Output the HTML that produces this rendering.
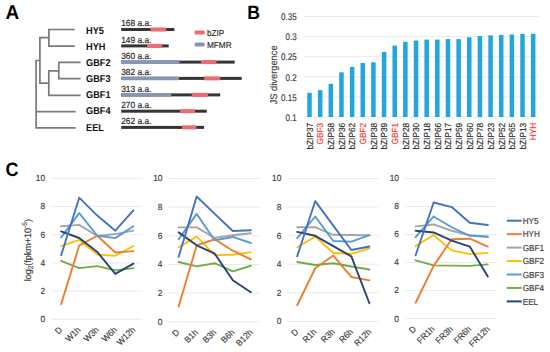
<!DOCTYPE html><html><head><meta charset="utf-8"><style>html,body{margin:0;padding:0;background:#fff;}svg{display:block;}text{font-family:"Liberation Sans", sans-serif;text-rendering:geometricPrecision;}</style></head><body>
<svg width="550" height="352" viewBox="0 0 550 352">
<rect width="550" height="352" fill="#fff"/>
<text transform="translate(5.60 19.00) scale(1 1.06)" font-size="19" fill="#000" font-weight="bold">A</text>
<text transform="translate(247.30 18.90) scale(1 1.1)" font-size="17.6" fill="#000" font-weight="bold">B</text>
<text transform="translate(5.60 176.40) scale(1 1.08)" font-size="18" fill="#000" font-weight="bold">C</text>
<path d="M48.9 29.5L74.0 29.5 M48.9 46.1L74.0 46.1 M48.9 29.5L48.9 46.1 M39.9 37.7L48.9 37.7 M39.9 37.7L39.9 83.2 M39.9 83.2L48.8 83.2 M48.8 70.8L48.8 95.4 M48.8 70.8L58.8 70.8 M58.8 62.3L58.8 78.6 M58.8 62.3L79.7 62.3 M58.8 78.6L79.7 78.6 M48.8 95.4L79.7 95.4 M36.1 60.5L39.9 60.5 M36.1 60.5L36.1 127.8 M36.1 111.7L74.8 111.7 M36.1 127.8L74.8 127.8" stroke="#7a7a7a" stroke-width="1.7" fill="none" stroke-linecap="square"/>
<text transform="translate(86.00 33.70) scale(1 1.08)" font-size="9.2" fill="#111" font-weight="bold">HY5</text>
<text transform="translate(86.00 50.15) scale(1 1.08)" font-size="9.2" fill="#111" font-weight="bold">HYH</text>
<text transform="translate(86.00 65.60) scale(1 1.08)" font-size="9.2" fill="#111" font-weight="bold">GBF2</text>
<text transform="translate(86.00 82.00) scale(1 1.08)" font-size="9.2" fill="#111" font-weight="bold">GBF3</text>
<text transform="translate(86.00 97.70) scale(1 1.08)" font-size="9.2" fill="#111" font-weight="bold">GBF1</text>
<text transform="translate(86.00 114.10) scale(1 1.08)" font-size="9.2" fill="#111" font-weight="bold">GBF4</text>
<text transform="translate(86.00 130.90) scale(1 1.08)" font-size="9.2" fill="#111" font-weight="bold">EEL</text>
<rect x="121.2" y="28.0" width="53.2" height="3.0" fill="#353535"/>
<rect x="150.5" y="27.5" width="15.9" height="4" fill="#f06b70"/>
<text transform="translate(121.20 26.30) scale(1 1.06)" font-size="8.4" fill="#1e1e1e" stroke="#1e1e1e" stroke-width="0.15">168 a.a.</text>
<rect x="121.2" y="44.4" width="47.5" height="3.0" fill="#353535"/>
<rect x="147" y="43.9" width="15.3" height="4" fill="#f06b70"/>
<text transform="translate(121.20 42.70) scale(1 1.06)" font-size="8.4" fill="#1e1e1e" stroke="#1e1e1e" stroke-width="0.15">149 a.a.</text>
<rect x="121.2" y="60.6" width="113.5" height="3.0" fill="#353535"/>
<rect x="121.2" y="60.3" width="58.3" height="3.6" fill="#8597b5" rx="1"/>
<rect x="201" y="60.1" width="15.5" height="4" fill="#f06b70"/>
<text transform="translate(121.20 58.90) scale(1 1.06)" font-size="8.4" fill="#1e1e1e" stroke="#1e1e1e" stroke-width="0.15">360 a.a.</text>
<rect x="121.2" y="76.9" width="120.5" height="3.0" fill="#353535"/>
<rect x="121.2" y="76.6" width="57.8" height="3.6" fill="#8597b5" rx="1"/>
<rect x="204.2" y="76.4" width="16.0" height="4" fill="#f06b70"/>
<text transform="translate(121.20 75.20) scale(1 1.06)" font-size="8.4" fill="#1e1e1e" stroke="#1e1e1e" stroke-width="0.15">382 a.a.</text>
<rect x="121.2" y="93.4" width="99.0" height="3.0" fill="#353535"/>
<rect x="121.2" y="93.1" width="50.0" height="3.6" fill="#8597b5" rx="1"/>
<rect x="191.8" y="92.9" width="16.3" height="4" fill="#f06b70"/>
<text transform="translate(121.20 91.70) scale(1 1.06)" font-size="8.4" fill="#1e1e1e" stroke="#1e1e1e" stroke-width="0.15">313 a.a.</text>
<rect x="121.2" y="109.7" width="85.6" height="3.0" fill="#353535"/>
<rect x="180.1" y="109.2" width="14.9" height="4" fill="#f06b70"/>
<text transform="translate(121.20 108.00) scale(1 1.06)" font-size="8.4" fill="#1e1e1e" stroke="#1e1e1e" stroke-width="0.15">270 a.a.</text>
<rect x="121.2" y="125.9" width="82.9" height="3.0" fill="#353535"/>
<rect x="181.9" y="125.4" width="14.4" height="4" fill="#f06b70"/>
<text transform="translate(121.20 124.20) scale(1 1.06)" font-size="8.4" fill="#1e1e1e" stroke="#1e1e1e" stroke-width="0.15">262 a.a.</text>
<rect x="194.5" y="30.5" width="10.3" height="4" rx="1.5" fill="#f06b70"/>
<text transform="translate(207.00 35.80) scale(1 1.06)" font-size="8.2" fill="#2a2a2a" stroke="#2a2a2a" stroke-width="0.15">bZIP</text>
<rect x="194.5" y="42.4" width="10.3" height="4" rx="1.5" fill="#8597b5"/>
<text transform="translate(207.00 47.60) scale(1 1.06)" font-size="8.2" fill="#2a2a2a" stroke="#2a2a2a" stroke-width="0.15">MFMR</text>
<line x1="304.2" y1="16.5" x2="538.5" y2="16.5" stroke="#eaeaea" stroke-width="1"/>
<text transform="translate(296.60 20.20) scale(1 1.2)" font-size="8" fill="#404040" stroke="#404040" stroke-width="0.15" text-anchor="end">0.35</text>
<line x1="304.2" y1="36.6" x2="538.5" y2="36.6" stroke="#eaeaea" stroke-width="1"/>
<text transform="translate(296.60 40.30) scale(1 1.2)" font-size="8" fill="#404040" stroke="#404040" stroke-width="0.15" text-anchor="end">0.3</text>
<line x1="304.2" y1="56.7" x2="538.5" y2="56.7" stroke="#eaeaea" stroke-width="1"/>
<text transform="translate(296.60 60.40) scale(1 1.2)" font-size="8" fill="#404040" stroke="#404040" stroke-width="0.15" text-anchor="end">0.25</text>
<line x1="304.2" y1="76.8" x2="538.5" y2="76.8" stroke="#eaeaea" stroke-width="1"/>
<text transform="translate(296.60 80.50) scale(1 1.2)" font-size="8" fill="#404040" stroke="#404040" stroke-width="0.15" text-anchor="end">0.2</text>
<line x1="304.2" y1="96.9" x2="538.5" y2="96.9" stroke="#eaeaea" stroke-width="1"/>
<text transform="translate(296.60 100.60) scale(1 1.2)" font-size="8" fill="#404040" stroke="#404040" stroke-width="0.15" text-anchor="end">0.15</text>
<line x1="304.2" y1="117.0" x2="538.5" y2="117.0" stroke="#eaeaea" stroke-width="1"/>
<text transform="translate(296.60 120.70) scale(1 1.2)" font-size="8" fill="#404040" stroke="#404040" stroke-width="0.15" text-anchor="end">0.1</text>
<rect x="307.27" y="92.8" width="4.5" height="24.2" fill="#22a6e0"/>
<text transform="translate(312.82 122.80) rotate(-90) scale(1 1.06)" font-size="8.3" fill="#262626" stroke="#262626" stroke-width="0.15" text-anchor="end">bZIP37</text>
<rect x="317.93" y="90.2" width="4.5" height="26.8" fill="#22a6e0"/>
<text transform="translate(323.48 122.80) rotate(-90) scale(1 1.06)" font-size="8.3" fill="#f03838" stroke="#f03838" stroke-width="0.15" text-anchor="end">GBF3</text>
<rect x="328.57" y="83.8" width="4.5" height="33.2" fill="#22a6e0"/>
<text transform="translate(334.12 122.80) rotate(-90) scale(1 1.06)" font-size="8.3" fill="#262626" stroke="#262626" stroke-width="0.15" text-anchor="end">bZIP58</text>
<rect x="339.22" y="72.3" width="4.5" height="44.7" fill="#22a6e0"/>
<text transform="translate(344.77 122.80) rotate(-90) scale(1 1.06)" font-size="8.3" fill="#262626" stroke="#262626" stroke-width="0.15" text-anchor="end">bZIP36</text>
<rect x="349.88" y="66.9" width="4.5" height="50.1" fill="#22a6e0"/>
<text transform="translate(355.43 122.80) rotate(-90) scale(1 1.06)" font-size="8.3" fill="#262626" stroke="#262626" stroke-width="0.15" text-anchor="end">bZIP62</text>
<rect x="360.52" y="63.0" width="4.5" height="54.0" fill="#22a6e0"/>
<text transform="translate(366.07 122.80) rotate(-90) scale(1 1.06)" font-size="8.3" fill="#f03838" stroke="#f03838" stroke-width="0.15" text-anchor="end">GBF2</text>
<rect x="371.18" y="62.3" width="4.5" height="54.7" fill="#22a6e0"/>
<text transform="translate(376.73 122.80) rotate(-90) scale(1 1.06)" font-size="8.3" fill="#262626" stroke="#262626" stroke-width="0.15" text-anchor="end">bZIP38</text>
<rect x="381.82" y="51.9" width="4.5" height="65.1" fill="#22a6e0"/>
<text transform="translate(387.38 122.80) rotate(-90) scale(1 1.06)" font-size="8.3" fill="#262626" stroke="#262626" stroke-width="0.15" text-anchor="end">bZIP39</text>
<rect x="392.48" y="45.6" width="4.5" height="71.4" fill="#22a6e0"/>
<text transform="translate(398.03 122.80) rotate(-90) scale(1 1.06)" font-size="8.3" fill="#f03838" stroke="#f03838" stroke-width="0.15" text-anchor="end">GBF1</text>
<rect x="403.12" y="41.8" width="4.5" height="75.2" fill="#22a6e0"/>
<text transform="translate(408.68 122.80) rotate(-90) scale(1 1.06)" font-size="8.3" fill="#262626" stroke="#262626" stroke-width="0.15" text-anchor="end">bZIP28</text>
<rect x="413.77" y="40.5" width="4.5" height="76.5" fill="#22a6e0"/>
<text transform="translate(419.32 122.80) rotate(-90) scale(1 1.06)" font-size="8.3" fill="#262626" stroke="#262626" stroke-width="0.15" text-anchor="end">bZIP30</text>
<rect x="424.43" y="39.6" width="4.5" height="77.4" fill="#22a6e0"/>
<text transform="translate(429.98 122.80) rotate(-90) scale(1 1.06)" font-size="8.3" fill="#262626" stroke="#262626" stroke-width="0.15" text-anchor="end">bZIP18</text>
<rect x="435.07" y="39.6" width="4.5" height="77.4" fill="#22a6e0"/>
<text transform="translate(440.62 122.80) rotate(-90) scale(1 1.06)" font-size="8.3" fill="#262626" stroke="#262626" stroke-width="0.15" text-anchor="end">bZIP66</text>
<rect x="445.73" y="39.1" width="4.5" height="77.9" fill="#22a6e0"/>
<text transform="translate(451.28 122.80) rotate(-90) scale(1 1.06)" font-size="8.3" fill="#262626" stroke="#262626" stroke-width="0.15" text-anchor="end">bZIP17</text>
<rect x="456.38" y="39.1" width="4.5" height="77.9" fill="#22a6e0"/>
<text transform="translate(461.93 122.80) rotate(-90) scale(1 1.06)" font-size="8.3" fill="#262626" stroke="#262626" stroke-width="0.15" text-anchor="end">bZIP59</text>
<rect x="467.02" y="37.3" width="4.5" height="79.7" fill="#22a6e0"/>
<text transform="translate(472.57 122.80) rotate(-90) scale(1 1.06)" font-size="8.3" fill="#262626" stroke="#262626" stroke-width="0.15" text-anchor="end">bZIP60</text>
<rect x="477.67" y="36.0" width="4.5" height="81.0" fill="#22a6e0"/>
<text transform="translate(483.22 122.80) rotate(-90) scale(1 1.06)" font-size="8.3" fill="#262626" stroke="#262626" stroke-width="0.15" text-anchor="end">bZIP78</text>
<rect x="488.32" y="35.3" width="4.5" height="81.7" fill="#22a6e0"/>
<text transform="translate(493.88 122.80) rotate(-90) scale(1 1.06)" font-size="8.3" fill="#262626" stroke="#262626" stroke-width="0.15" text-anchor="end">bZIP23</text>
<rect x="498.98" y="34.9" width="4.5" height="82.1" fill="#22a6e0"/>
<text transform="translate(504.53 122.80) rotate(-90) scale(1 1.06)" font-size="8.3" fill="#262626" stroke="#262626" stroke-width="0.15" text-anchor="end">bZIP52</text>
<rect x="509.62" y="34.5" width="4.5" height="82.5" fill="#22a6e0"/>
<text transform="translate(515.17 122.80) rotate(-90) scale(1 1.06)" font-size="8.3" fill="#262626" stroke="#262626" stroke-width="0.15" text-anchor="end">bZIP65</text>
<rect x="520.27" y="33.9" width="4.5" height="83.1" fill="#22a6e0"/>
<text transform="translate(525.82 122.80) rotate(-90) scale(1 1.06)" font-size="8.3" fill="#262626" stroke="#262626" stroke-width="0.15" text-anchor="end">bZIP13</text>
<rect x="530.92" y="33.8" width="4.5" height="83.2" fill="#22a6e0"/>
<text transform="translate(536.47 122.80) rotate(-90) scale(1 1.06)" font-size="8.3" fill="#f03838" stroke="#f03838" stroke-width="0.15" text-anchor="end">HYH</text>
<text transform="translate(276.70 74.90) rotate(-90) scale(1 1.05)" font-size="9.3" fill="#404040" stroke="#404040" stroke-width="0.15" text-anchor="middle">JS divergence</text>
<line x1="51.2" y1="319.30" x2="142.5" y2="319.30" stroke="#eaeaea" stroke-width="1"/>
<text transform="translate(45.20 322.20) scale(1 1.06)" font-size="8.4" fill="#404040" stroke="#404040" stroke-width="0.15" text-anchor="end">0</text>
<line x1="51.2" y1="291.12" x2="142.5" y2="291.12" stroke="#eaeaea" stroke-width="1"/>
<text transform="translate(45.20 294.02) scale(1 1.06)" font-size="8.4" fill="#404040" stroke="#404040" stroke-width="0.15" text-anchor="end">2</text>
<line x1="51.2" y1="262.94" x2="142.5" y2="262.94" stroke="#eaeaea" stroke-width="1"/>
<text transform="translate(45.20 265.84) scale(1 1.06)" font-size="8.4" fill="#404040" stroke="#404040" stroke-width="0.15" text-anchor="end">4</text>
<line x1="51.2" y1="234.76" x2="142.5" y2="234.76" stroke="#eaeaea" stroke-width="1"/>
<text transform="translate(45.20 237.66) scale(1 1.06)" font-size="8.4" fill="#404040" stroke="#404040" stroke-width="0.15" text-anchor="end">6</text>
<line x1="51.2" y1="206.58" x2="142.5" y2="206.58" stroke="#eaeaea" stroke-width="1"/>
<text transform="translate(45.20 209.48) scale(1 1.06)" font-size="8.4" fill="#404040" stroke="#404040" stroke-width="0.15" text-anchor="end">8</text>
<line x1="51.2" y1="178.40" x2="142.5" y2="178.40" stroke="#eaeaea" stroke-width="1"/>
<text transform="translate(45.20 181.30) scale(1 1.06)" font-size="8.4" fill="#404040" stroke="#404040" stroke-width="0.15" text-anchor="end">10</text>
<text transform="translate(62.83 330.40) rotate(-45) scale(1 1.06)" font-size="8.4" fill="#404040" stroke="#404040" stroke-width="0.15" text-anchor="end">D</text>
<text transform="translate(81.09 330.40) rotate(-45) scale(1 1.06)" font-size="8.4" fill="#404040" stroke="#404040" stroke-width="0.15" text-anchor="end">W1h</text>
<text transform="translate(99.35 330.40) rotate(-45) scale(1 1.06)" font-size="8.4" fill="#404040" stroke="#404040" stroke-width="0.15" text-anchor="end">W3h</text>
<text transform="translate(117.61 330.40) rotate(-45) scale(1 1.06)" font-size="8.4" fill="#404040" stroke="#404040" stroke-width="0.15" text-anchor="end">W6h</text>
<text transform="translate(135.87 330.40) rotate(-45) scale(1 1.06)" font-size="8.4" fill="#404040" stroke="#404040" stroke-width="0.15" text-anchor="end">W12h</text>
<polyline points="61.17,260.97 79.22,268.15 97.27,266.18 115.32,270.41 133.37,268.15" fill="none" stroke="#70AD47" stroke-width="1.9" stroke-linejoin="round" stroke-linecap="round"/>
<polyline points="61.17,246.03 79.22,239.97 97.27,254.63 115.32,255.75 133.37,246.03" fill="none" stroke="#FFC000" stroke-width="1.9" stroke-linejoin="round" stroke-linecap="round"/>
<polyline points="61.17,226.31 79.22,224.90 97.27,236.03 115.32,234.06 133.37,230.67" fill="none" stroke="#A5A5A5" stroke-width="1.9" stroke-linejoin="round" stroke-linecap="round"/>
<polyline points="61.17,304.08 79.22,245.47 97.27,235.75 115.32,252.51 133.37,251.10" fill="none" stroke="#ED7D31" stroke-width="1.9" stroke-linejoin="round" stroke-linecap="round"/>
<polyline points="61.17,237.44 79.22,213.06 97.27,235.75 115.32,238.14 133.37,226.17" fill="none" stroke="#5B9BD5" stroke-width="1.9" stroke-linejoin="round" stroke-linecap="round"/>
<polyline points="61.17,231.38 79.22,238.00 97.27,251.95 115.32,273.93 133.37,263.64" fill="none" stroke="#264478" stroke-width="1.9" stroke-linejoin="round" stroke-linecap="round"/>
<polyline points="61.17,255.33 79.22,197.70 97.27,215.60 115.32,230.67 133.37,210.38" fill="none" stroke="#4472C4" stroke-width="1.9" stroke-linejoin="round" stroke-linecap="round"/>
<line x1="168.5" y1="321.80" x2="260" y2="321.80" stroke="#eaeaea" stroke-width="1"/>
<text transform="translate(162.50 324.70) scale(1 1.06)" font-size="8.4" fill="#404040" stroke="#404040" stroke-width="0.15" text-anchor="end">0</text>
<line x1="168.5" y1="293.14" x2="260" y2="293.14" stroke="#eaeaea" stroke-width="1"/>
<text transform="translate(162.50 296.04) scale(1 1.06)" font-size="8.4" fill="#404040" stroke="#404040" stroke-width="0.15" text-anchor="end">2</text>
<line x1="168.5" y1="264.48" x2="260" y2="264.48" stroke="#eaeaea" stroke-width="1"/>
<text transform="translate(162.50 267.38) scale(1 1.06)" font-size="8.4" fill="#404040" stroke="#404040" stroke-width="0.15" text-anchor="end">4</text>
<line x1="168.5" y1="235.82" x2="260" y2="235.82" stroke="#eaeaea" stroke-width="1"/>
<text transform="translate(162.50 238.72) scale(1 1.06)" font-size="8.4" fill="#404040" stroke="#404040" stroke-width="0.15" text-anchor="end">6</text>
<line x1="168.5" y1="207.16" x2="260" y2="207.16" stroke="#eaeaea" stroke-width="1"/>
<text transform="translate(162.50 210.06) scale(1 1.06)" font-size="8.4" fill="#404040" stroke="#404040" stroke-width="0.15" text-anchor="end">8</text>
<line x1="168.5" y1="178.50" x2="260" y2="178.50" stroke="#eaeaea" stroke-width="1"/>
<text transform="translate(162.50 181.40) scale(1 1.06)" font-size="8.4" fill="#404040" stroke="#404040" stroke-width="0.15" text-anchor="end">10</text>
<text transform="translate(180.15 332.90) rotate(-45) scale(1 1.06)" font-size="8.4" fill="#404040" stroke="#404040" stroke-width="0.15" text-anchor="end">D</text>
<text transform="translate(198.45 332.90) rotate(-45) scale(1 1.06)" font-size="8.4" fill="#404040" stroke="#404040" stroke-width="0.15" text-anchor="end">B1h</text>
<text transform="translate(216.75 332.90) rotate(-45) scale(1 1.06)" font-size="8.4" fill="#404040" stroke="#404040" stroke-width="0.15" text-anchor="end">B3h</text>
<text transform="translate(235.05 332.90) rotate(-45) scale(1 1.06)" font-size="8.4" fill="#404040" stroke="#404040" stroke-width="0.15" text-anchor="end">B6h</text>
<text transform="translate(253.35 332.90) rotate(-45) scale(1 1.06)" font-size="8.4" fill="#404040" stroke="#404040" stroke-width="0.15" text-anchor="end">B12h</text>
<polyline points="178.65,262.04 196.70,266.34 214.75,263.19 232.80,271.36 250.85,265.77" fill="none" stroke="#70AD47" stroke-width="1.9" stroke-linejoin="round" stroke-linecap="round"/>
<polyline points="178.65,247.28 196.70,236.68 214.75,255.17 232.80,254.74 250.85,252.16" fill="none" stroke="#FFC000" stroke-width="1.9" stroke-linejoin="round" stroke-linecap="round"/>
<polyline points="178.65,227.37 196.70,227.37 214.75,237.97 232.80,235.25 250.85,233.24" fill="none" stroke="#A5A5A5" stroke-width="1.9" stroke-linejoin="round" stroke-linecap="round"/>
<polyline points="178.65,306.47 196.70,245.28 214.75,239.26 232.80,250.72 250.85,259.32" fill="none" stroke="#ED7D31" stroke-width="1.9" stroke-linejoin="round" stroke-linecap="round"/>
<polyline points="178.65,239.26 196.70,213.90 214.75,240.41 232.80,236.97 250.85,242.99" fill="none" stroke="#5B9BD5" stroke-width="1.9" stroke-linejoin="round" stroke-linecap="round"/>
<polyline points="178.65,232.38 196.70,245.28 214.75,253.73 232.80,280.24 250.85,292.28" fill="none" stroke="#264478" stroke-width="1.9" stroke-linejoin="round" stroke-linecap="round"/>
<polyline points="178.65,256.89 196.70,196.56 214.75,213.90 232.80,230.95 250.85,230.23" fill="none" stroke="#4472C4" stroke-width="1.9" stroke-linejoin="round" stroke-linecap="round"/>
<line x1="287.3" y1="321.40" x2="378.5" y2="321.40" stroke="#eaeaea" stroke-width="1"/>
<text transform="translate(281.30 324.30) scale(1 1.06)" font-size="8.4" fill="#404040" stroke="#404040" stroke-width="0.15" text-anchor="end">0</text>
<line x1="287.3" y1="292.82" x2="378.5" y2="292.82" stroke="#eaeaea" stroke-width="1"/>
<text transform="translate(281.30 295.72) scale(1 1.06)" font-size="8.4" fill="#404040" stroke="#404040" stroke-width="0.15" text-anchor="end">2</text>
<line x1="287.3" y1="264.24" x2="378.5" y2="264.24" stroke="#eaeaea" stroke-width="1"/>
<text transform="translate(281.30 267.14) scale(1 1.06)" font-size="8.4" fill="#404040" stroke="#404040" stroke-width="0.15" text-anchor="end">4</text>
<line x1="287.3" y1="235.66" x2="378.5" y2="235.66" stroke="#eaeaea" stroke-width="1"/>
<text transform="translate(281.30 238.56) scale(1 1.06)" font-size="8.4" fill="#404040" stroke="#404040" stroke-width="0.15" text-anchor="end">6</text>
<line x1="287.3" y1="207.08" x2="378.5" y2="207.08" stroke="#eaeaea" stroke-width="1"/>
<text transform="translate(281.30 209.98) scale(1 1.06)" font-size="8.4" fill="#404040" stroke="#404040" stroke-width="0.15" text-anchor="end">8</text>
<line x1="287.3" y1="178.50" x2="378.5" y2="178.50" stroke="#eaeaea" stroke-width="1"/>
<text transform="translate(281.30 181.40) scale(1 1.06)" font-size="8.4" fill="#404040" stroke="#404040" stroke-width="0.15" text-anchor="end">10</text>
<text transform="translate(298.92 332.50) rotate(-45) scale(1 1.06)" font-size="8.4" fill="#404040" stroke="#404040" stroke-width="0.15" text-anchor="end">D</text>
<text transform="translate(317.16 332.50) rotate(-45) scale(1 1.06)" font-size="8.4" fill="#404040" stroke="#404040" stroke-width="0.15" text-anchor="end">R1h</text>
<text transform="translate(335.40 332.50) rotate(-45) scale(1 1.06)" font-size="8.4" fill="#404040" stroke="#404040" stroke-width="0.15" text-anchor="end">R3h</text>
<text transform="translate(353.64 332.50) rotate(-45) scale(1 1.06)" font-size="8.4" fill="#404040" stroke="#404040" stroke-width="0.15" text-anchor="end">R6h</text>
<text transform="translate(371.88 332.50) rotate(-45) scale(1 1.06)" font-size="8.4" fill="#404040" stroke="#404040" stroke-width="0.15" text-anchor="end">R12h</text>
<polyline points="297.18,261.95 315.23,264.95 333.28,263.24 351.33,266.53 369.38,269.53" fill="none" stroke="#70AD47" stroke-width="1.9" stroke-linejoin="round" stroke-linecap="round"/>
<polyline points="297.18,247.23 315.23,236.66 333.28,252.95 351.33,253.81 369.38,248.24" fill="none" stroke="#FFC000" stroke-width="1.9" stroke-linejoin="round" stroke-linecap="round"/>
<polyline points="297.18,227.23 315.23,227.23 333.28,234.80 351.33,234.95 369.38,235.23" fill="none" stroke="#A5A5A5" stroke-width="1.9" stroke-linejoin="round" stroke-linecap="round"/>
<polyline points="297.18,305.25 315.23,268.24 333.28,255.52 351.33,276.96 369.38,280.39" fill="none" stroke="#ED7D31" stroke-width="1.9" stroke-linejoin="round" stroke-linecap="round"/>
<polyline points="297.18,238.23 315.23,216.51 333.28,240.95 351.33,241.66 369.38,235.23" fill="none" stroke="#5B9BD5" stroke-width="1.9" stroke-linejoin="round" stroke-linecap="round"/>
<polyline points="297.18,231.94 315.23,235.80 333.28,246.09 351.33,256.38 369.38,303.25" fill="none" stroke="#264478" stroke-width="1.9" stroke-linejoin="round" stroke-linecap="round"/>
<polyline points="297.18,256.38 315.23,201.08 333.28,225.66 351.33,249.95 369.38,246.52" fill="none" stroke="#4472C4" stroke-width="1.9" stroke-linejoin="round" stroke-linecap="round"/>
<line x1="405.0" y1="318.60" x2="497.0" y2="318.60" stroke="#eaeaea" stroke-width="1"/>
<text transform="translate(399.00 321.50) scale(1 1.06)" font-size="8.4" fill="#404040" stroke="#404040" stroke-width="0.15" text-anchor="end">0</text>
<line x1="405.0" y1="290.58" x2="497.0" y2="290.58" stroke="#eaeaea" stroke-width="1"/>
<text transform="translate(399.00 293.48) scale(1 1.06)" font-size="8.4" fill="#404040" stroke="#404040" stroke-width="0.15" text-anchor="end">2</text>
<line x1="405.0" y1="262.56" x2="497.0" y2="262.56" stroke="#eaeaea" stroke-width="1"/>
<text transform="translate(399.00 265.46) scale(1 1.06)" font-size="8.4" fill="#404040" stroke="#404040" stroke-width="0.15" text-anchor="end">4</text>
<line x1="405.0" y1="234.54" x2="497.0" y2="234.54" stroke="#eaeaea" stroke-width="1"/>
<text transform="translate(399.00 237.44) scale(1 1.06)" font-size="8.4" fill="#404040" stroke="#404040" stroke-width="0.15" text-anchor="end">6</text>
<line x1="405.0" y1="206.52" x2="497.0" y2="206.52" stroke="#eaeaea" stroke-width="1"/>
<text transform="translate(399.00 209.42) scale(1 1.06)" font-size="8.4" fill="#404040" stroke="#404040" stroke-width="0.15" text-anchor="end">8</text>
<line x1="405.0" y1="178.50" x2="497.0" y2="178.50" stroke="#eaeaea" stroke-width="1"/>
<text transform="translate(399.00 181.40) scale(1 1.06)" font-size="8.4" fill="#404040" stroke="#404040" stroke-width="0.15" text-anchor="end">10</text>
<text transform="translate(416.70 329.70) rotate(-45) scale(1 1.06)" font-size="8.4" fill="#404040" stroke="#404040" stroke-width="0.15" text-anchor="end">D</text>
<text transform="translate(435.10 329.70) rotate(-45) scale(1 1.06)" font-size="8.4" fill="#404040" stroke="#404040" stroke-width="0.15" text-anchor="end">FR1h</text>
<text transform="translate(453.50 329.70) rotate(-45) scale(1 1.06)" font-size="8.4" fill="#404040" stroke="#404040" stroke-width="0.15" text-anchor="end">FR3h</text>
<text transform="translate(471.90 329.70) rotate(-45) scale(1 1.06)" font-size="8.4" fill="#404040" stroke="#404040" stroke-width="0.15" text-anchor="end">FR6h</text>
<text transform="translate(490.30 329.70) rotate(-45) scale(1 1.06)" font-size="8.4" fill="#404040" stroke="#404040" stroke-width="0.15" text-anchor="end">FR12h</text>
<polyline points="415.60,260.32 433.65,265.36 451.70,265.64 469.75,265.92 487.80,264.38" fill="none" stroke="#70AD47" stroke-width="1.9" stroke-linejoin="round" stroke-linecap="round"/>
<polyline points="415.60,246.17 433.65,234.96 451.70,250.37 469.75,254.15 487.80,252.89" fill="none" stroke="#FFC000" stroke-width="1.9" stroke-linejoin="round" stroke-linecap="round"/>
<polyline points="415.60,226.41 433.65,224.45 451.70,230.76 469.75,235.24 487.80,237.06" fill="none" stroke="#A5A5A5" stroke-width="1.9" stroke-linejoin="round" stroke-linecap="round"/>
<polyline points="415.60,302.77 433.65,265.92 451.70,239.30 469.75,238.74 487.80,246.59" fill="none" stroke="#ED7D31" stroke-width="1.9" stroke-linejoin="round" stroke-linecap="round"/>
<polyline points="415.60,237.06 433.65,216.47 451.70,227.25 469.75,235.80 487.80,236.50" fill="none" stroke="#5B9BD5" stroke-width="1.9" stroke-linejoin="round" stroke-linecap="round"/>
<polyline points="415.60,230.76 433.65,232.44 451.70,240.56 469.75,246.59 487.80,276.43" fill="none" stroke="#264478" stroke-width="1.9" stroke-linejoin="round" stroke-linecap="round"/>
<polyline points="415.60,255.27 433.65,202.46 451.70,207.08 469.75,222.77 487.80,225.01" fill="none" stroke="#4472C4" stroke-width="1.9" stroke-linejoin="round" stroke-linecap="round"/>
<text transform="translate(31.00 250.20) rotate(-90) scale(1 1.05)" font-size="9" fill="#404040" stroke="#404040" stroke-width="0.15" text-anchor="middle">log<tspan font-size="6.5" dy="2">2</tspan><tspan dy="-2">(fpkm+10</tspan><tspan font-size="6.5" dy="-3.6">-5</tspan><tspan dy="3.6">)</tspan></text>
<line x1="506.8" y1="220.70" x2="521.7" y2="220.70" stroke="#4472C4" stroke-width="2"/>
<text transform="translate(522.70 223.90) scale(1 1.06)" font-size="8.2" fill="#404040" stroke="#404040" stroke-width="0.15">HY5</text>
<line x1="506.8" y1="234.15" x2="521.7" y2="234.15" stroke="#ED7D31" stroke-width="2"/>
<text transform="translate(522.70 237.35) scale(1 1.06)" font-size="8.2" fill="#404040" stroke="#404040" stroke-width="0.15">HYH</text>
<line x1="506.8" y1="247.60" x2="521.7" y2="247.60" stroke="#A5A5A5" stroke-width="2"/>
<text transform="translate(522.70 250.80) scale(1 1.06)" font-size="8.2" fill="#404040" stroke="#404040" stroke-width="0.15">GBF1</text>
<line x1="506.8" y1="261.05" x2="521.7" y2="261.05" stroke="#FFC000" stroke-width="2"/>
<text transform="translate(522.70 264.25) scale(1 1.06)" font-size="8.2" fill="#404040" stroke="#404040" stroke-width="0.15">GBF2</text>
<line x1="506.8" y1="274.50" x2="521.7" y2="274.50" stroke="#5B9BD5" stroke-width="2"/>
<text transform="translate(522.70 277.70) scale(1 1.06)" font-size="8.2" fill="#404040" stroke="#404040" stroke-width="0.15">GBF3</text>
<line x1="506.8" y1="287.95" x2="521.7" y2="287.95" stroke="#70AD47" stroke-width="2"/>
<text transform="translate(522.70 291.15) scale(1 1.06)" font-size="8.2" fill="#404040" stroke="#404040" stroke-width="0.15">GBF4</text>
<line x1="506.8" y1="301.40" x2="521.7" y2="301.40" stroke="#264478" stroke-width="2"/>
<text transform="translate(522.70 304.60) scale(1 1.06)" font-size="8.2" fill="#404040" stroke="#404040" stroke-width="0.15">EEL</text>
</svg></body></html>
